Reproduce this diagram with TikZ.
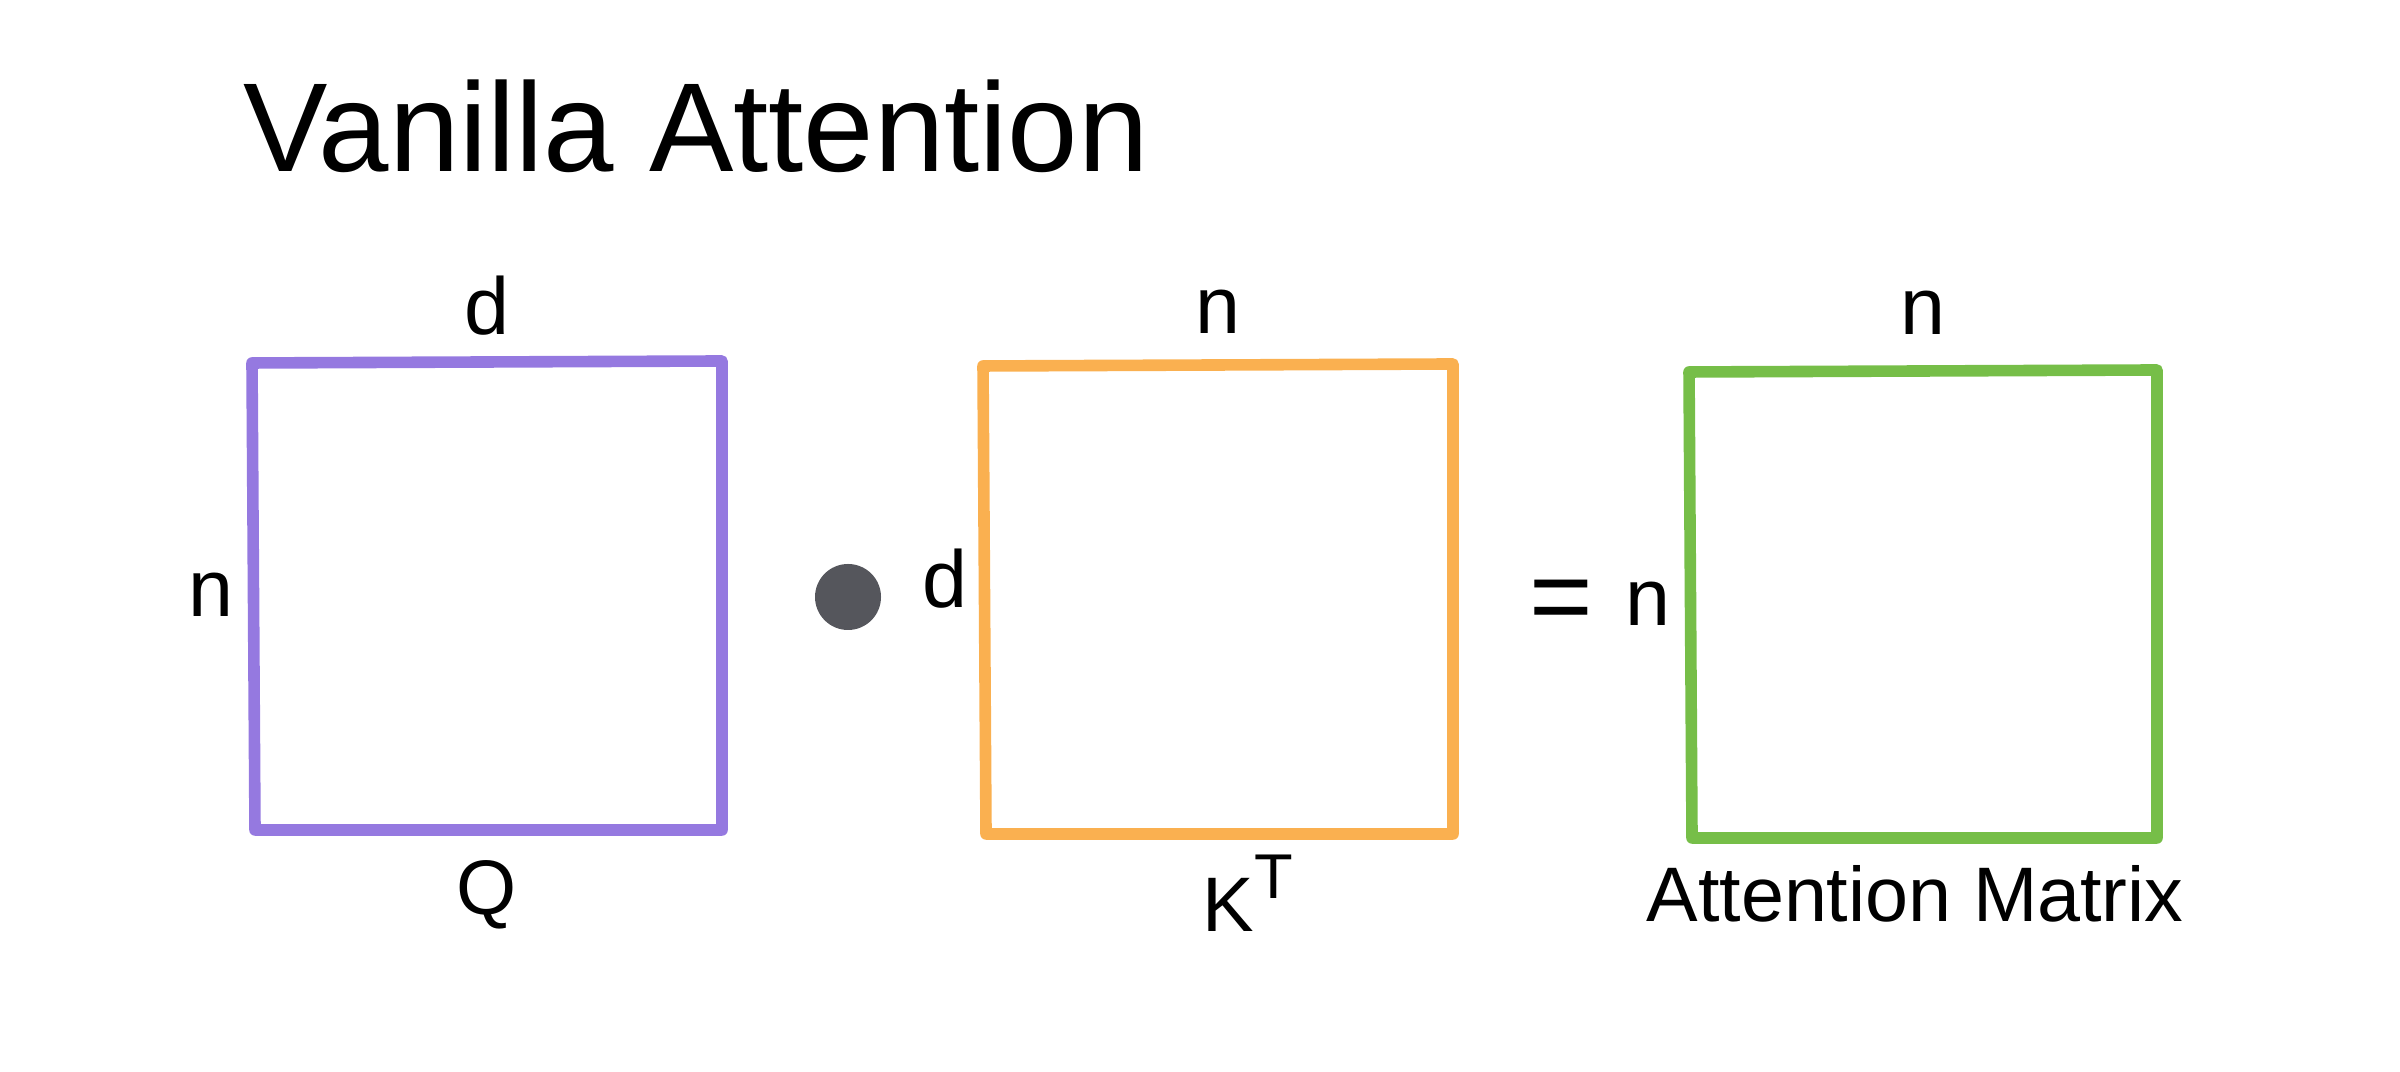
\documentclass[tikz,border=0pt]{standalone}
\usepackage{fontspec}
\setmainfont{Liberation Sans}
\usepackage{tikz}
\usetikzlibrary{positioning}

\definecolor{qpurple}{RGB}{149,121,224}
\definecolor{korange}{RGB}{250,176,80}
\definecolor{agreen}{RGB}{118,190,72}
\definecolor{dotgray}{RGB}{85,86,92}

\tikzset{
  matbox/.style={line width=3.3pt, line join=round, line cap=round},
  dimlabel/.style={font=\fontsize{23}{26}\selectfont, inner sep=0pt},
  namelabel/.style={font=\fontsize{22}{25}\selectfont, inner sep=0pt}
}

\begin{document}
\begin{tikzpicture}
  \useasboundingbox (0,0) rectangle (24,10.72);

  \node[anchor=base west, font=\fontsize{36}{40}\selectfont, inner sep=0pt] (title) at (2.43,9.00) {Vanilla Attention};

  % Q
  \draw[matbox, qpurple] (2.52,7.09) -- (7.22,7.11) -- (7.22,2.42) -- (2.55,2.42) -- cycle;
  \coordinate (qtop) at (4.87,7.11);
  \node[dimlabel, above=0.25 of qtop] (qd) {d};
  \node[dimlabel, anchor=base east] (qn) at (2.34,4.55) {n};
  \node[namelabel, anchor=base] (qname) at (4.87,1.57) {Q};

  % dot
  \fill[dotgray] (8.48,4.75) circle (0.33);

  % K^T
  \draw[matbox, korange] (9.83,7.06) -- (14.53,7.08) -- (14.53,2.38) -- (9.86,2.38) -- cycle;
  \coordinate (ktop) at (12.18,7.08);
  \node[dimlabel, above=0.3 of ktop] (kn) {n};
  \node[dimlabel, anchor=base east] (kd) at (9.68,4.64) {d};
  \node[namelabel, anchor=base west] (kname) at (12.02,1.40) {K\raisebox{0.33cm}{\fontsize{18}{20}\selectfont T}};

  \node[font=\fontsize{31}{34}\selectfont, inner sep=0pt] (eq) at (15.61,4.65) {=};

  % attention matrix
  \draw[matbox, agreen] (16.89,7.00) -- (21.57,7.02) -- (21.57,2.34) -- (16.92,2.34) -- cycle;
  \coordinate (atop) at (19.23,7.02);
  \node[dimlabel, above=0.35 of atop] (an) {n};
  \node[dimlabel, anchor=base east] (aleftn) at (16.71,4.46) {n};
  \node[namelabel, anchor=base] (aname) at (19.15,1.50) {Attention Matrix};
\end{tikzpicture}
\end{document}
